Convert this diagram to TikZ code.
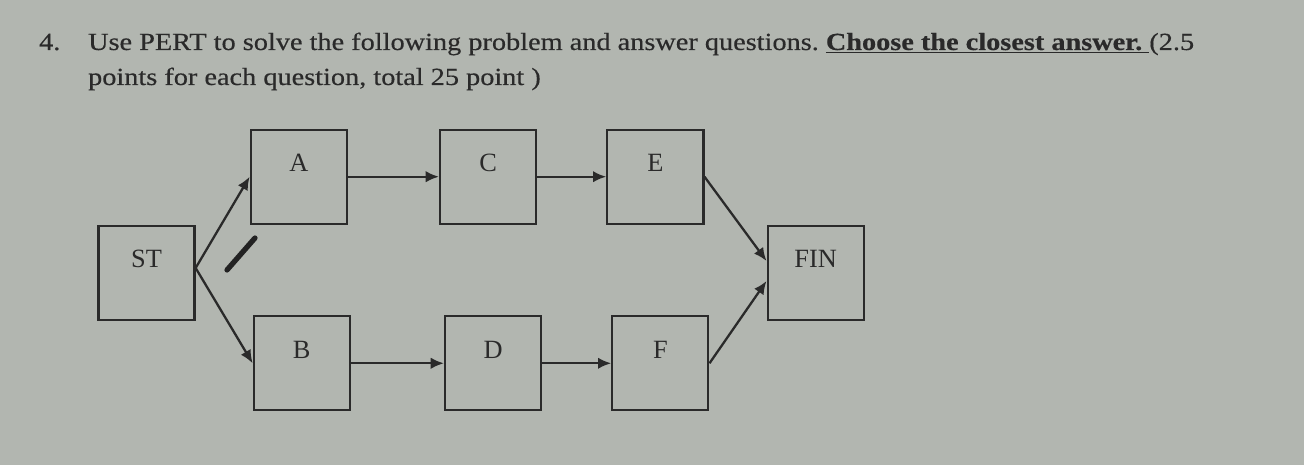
\documentclass[tikz,border=0pt]{standalone}
\usepackage{fontspec}
\setmainfont{Liberation Serif}
\usetikzlibrary{arrows.meta,positioning}
\definecolor{paper}{RGB}{178,182,176}
\definecolor{ink}{RGB}{42,42,42}
\frenchspacing

\begin{document}
\begin{tikzpicture}[->,>={Latex[length=7.5pt,width=6.5pt]},shorten >=0pt,auto,node distance=1.38cm,
	line width=1.3pt,color=ink,
	act node/.style={rectangle,draw,minimum width=1.92cm,minimum height=1.88cm,
		text height=0.35cm,text depth=0.56cm,inner sep=0pt,font=\fontsize{15}{17}\selectfont},
	head/.style={anchor=base west,inner sep=0pt,font=\addfontfeatures{FakeStretch=1.15,FakeBold=0.4}\fontsize{14}{18}\selectfont}]
	
	\fill[paper] (0,0) rectangle (26.08,9.3);
	
	\node[head] (num) at (0.76,8.3) {4.};
	\node[head] (q1) at (1.74,8.3) {Use PERT to solve the following problem and answer questions. \textbf{\underline{Choose the closest answer.\ }}(2.5};
	\node[head] (q2) at (1.74,7.6) {points for each question, total 25 point )};
	
	\node[act node] (st) at (2.93,3.84) {ST};
	\node[act node] (a) [above right=0cm and 1.08cm of st] {A};
	\node[act node] (b) [below right=-0.12cm and 1.14cm of st] {B};
	\node[act node] (c) [right=1.82cm of a] {C};
	\node[act node] (e) [right=of c] {E};
	\node[act node] (d) [right=1.86cm of b] {D};
	\node[act node] (f) [right=of d] {F};
	\node[act node] (fin) [below right=0cm and 1.24cm of e] {FIN};
	
	\path
	([yshift=0.1cm]st.east) edge node {} (a.west)
	([yshift=0.1cm]st.east) edge node {} (b.west)
	(a) edge node {} (c)
	(c) edge node {} (e)
	(b) edge node {} (d)
	(d) edge node {} (f)
	(e.east) edge node {} ([yshift=0.24cm]fin.west)
	(f.east) edge node {} ([yshift=-0.16cm]fin.west);
	\draw [-,line width=3pt,line cap=round,color=ink!80!black] (4.54,3.9) -- (5.1,4.54);
\end{tikzpicture}
\end{document}
